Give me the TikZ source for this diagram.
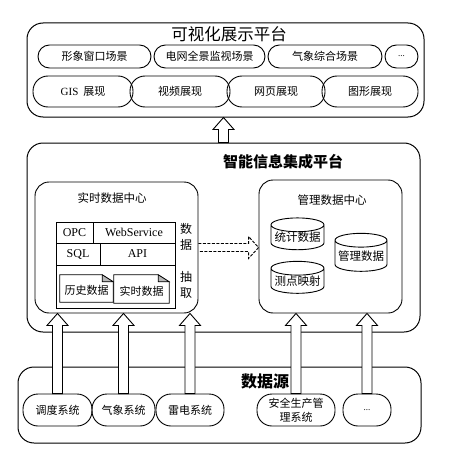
\documentclass[tikz,border=0pt]{standalone}
\usepackage{fontspec}
\setmainfont{Liberation Serif}
\newfontfamily\cjk{Noto Sans CJK SC}
\usetikzlibrary{shapes.geometric,calc}
\newcommand\hup[3][]{%
  \draw[blockarr,#1] let \p1=(#2), \p2=(#3) in
    (\x1-5pt,\y1) -- (\x1-5pt,\y2-12pt) -- (\x1-10.5pt,\y2-12pt) -- (\x1,\y2)
    -- (\x1+10.5pt,\y2-12pt) -- (\x1+5pt,\y2-12pt) -- (\x1+5pt,\y1) -- cycle;}
\newcommand\docshape[1]{%
  \draw[line width=0.8pt,fill=white] (#1.north west) -- ($(#1.north east)+(-11pt,0)$)
    -- ($(#1.north east)+(0,-7pt)$) -- (#1.south east) -- (#1.south west) -- cycle;
  \draw[line width=0.7pt,fill=gray!55] ($(#1.north east)+(-11pt,0)$) -- ($(#1.north east)+(-11pt,-7pt)$)
    -- ($(#1.north east)+(0,-7pt)$) -- cycle;}
\begin{document}
\begin{tikzpicture}[x=1pt,y=-1pt,
  wh/.style 2 args={minimum width=#1pt,minimum height=#2pt},
  outer/.style={draw,line width=1pt,rounded corners=16pt,inner sep=0pt},
  inner/.style={draw,line width=0.9pt,rounded corners=14pt,inner sep=0pt},
  pill/.style={draw,line width=0.9pt,rounded corners=11.5pt,inner sep=0pt,align=center,
    font=\cjk\fontsize{11}{13}\selectfont},
  pillb/.style={pill,rounded corners=15pt},
  lab/.style={inner sep=0pt,align=center,font=\cjk\fontsize{11.5}{14}\selectfont},
  ttl/.style={inner sep=0pt,font=\cjk\bfseries\fontsize{15}{18}\selectfont},
  cell/.style={draw,line width=0.9pt,inner sep=0pt,font=\fontsize{12}{14}\selectfont},
  cyl/.style={cylinder,shape border rotate=90,draw,line width=0.9pt,aspect=0.3,inner sep=0pt,
    fill=white,font=\cjk\fontsize{11.5}{14}\selectfont},
  doc/.style={inner sep=0pt,font=\cjk\fontsize{11}{13}\selectfont},
  blockarr/.style={draw,line width=0.9pt,fill=white},
]
\useasboundingbox[fill=white] (0,0) rectangle (474,460);

% ---- top platform
\node[outer,wh={397}{94}] (vis) at (225.5,70) {};
\node[inner sep=0pt,font=\cjk\fontsize{16.5}{18}\selectfont] (vist) at (229,34) {可视化展示平台};
\node[pill,wh={113}{23}] (s1) at (94.5,56.5) {形象窗口场景};
\node[pill,wh={111}{23}] (s2) at (209.5,56.5) {电网全景监视场景};
\node[pill,wh={114}{23}] (s3) at (325,56.5) {气象综合场景};
\node[pill,wh={33}{23},font=\fontsize{9}{10}\selectfont] (s4) at (401.5,56.5) {...};
\node[pillb,wh={100}{31}] (g1) at (83,91.5) {\textrm{GIS}\ \ 展现};
\node[pillb,wh={100}{31}] (g2) at (180,91.5) {视频展现};
\node[pillb,wh={98}{31}] (g3) at (276,91.5) {网页展现};
\node[pillb,wh={96}{31}] (g4) at (370,91.5) {图形展现};

% ---- middle platform
\node[outer,wh={393}{189}] (mid) at (223.5,237.5) {};
\node[ttl] (midt) at (283,162) {智能信息集成平台};

\node[inner,wh={163}{131}] (rt) at (116.5,247.5) {};
\node[lab] (rtt) at (112,198) {实时数据中心};
\node[cell,wh={37}{21}] (opc) at (74.5,232.5) {OPC};
\node[cell,wh={82}{21}] (ws) at (134,232.5) {WebService};
\node[cell,wh={44}{22}] (sql) at (78,254) {SQL};
\node[cell,wh={75}{22}] (api) at (137.5,254) {API};
\node[cell,wh={119}{43}] (store) at (115.5,286.5) {};
\node[doc,wh={53}{27}] (d1) at (86.5,288.5) {};
\node[doc,wh={55}{28}] (d2) at (141.5,289) {};
\docshape{d1}
\docshape{d2}
\node[doc] at ($(d1.center)+(0,2)$) {历史数据};
\node[doc] at ($(d2.center)+(0,2)$) {实时数据};
\node[lab,font=\cjk\fontsize{12}{16.5}\selectfont] (sj) at (186,237) {数\\据};
\node[lab,font=\cjk\fontsize{12}{16.5}\selectfont] (cq) at (186,285) {抽\\取};

\node[inner,wh={143}{133}] (mg) at (330.5,246.5) {};
\node[lab] (mgt) at (332,200) {管理数据中心};
\node[cyl,minimum width=53pt,minimum height=31pt] (c1) at (297.5,237.5) {统计数据};
\node[cyl,minimum width=53pt,minimum height=32pt] (c2) at (297.5,281) {测点映射};
\node[cyl,minimum width=52pt,minimum height=38pt] (c3) at (361,256) {管理数据};

% dashed extraction arrow
\draw[line width=0.9pt,dash pattern=on 3pt off 1.5pt] let \p1=(rt.east), \p2=(mg.west) in
  (\x1,\y1+4pt) -- (\x2-10pt,\y1+4pt) -- (\x2-10pt,\y1+11pt) -- (\x2,\y1)
  -- (\x2-10pt,\y1-11pt) -- (\x2-10pt,\y1-4pt) -- (\x1,\y1-4pt);

% ---- data sources
\node[outer,wh={403}{76}] (ds) at (219.5,405) {};
\node[ttl,font=\cjk\bfseries\fontsize{16}{18}\selectfont] (dst) at (265,381) {数据源};
\node[pillb,wh={69}{32}] (dd) at (57.5,410) {调度系统};
\node[pillb,wh={63}{32}] (qx) at (123.5,410) {气象系统};
\node[pillb,wh={68}{32}] (ld) at (190,410) {雷电系统};
\node[pillb,wh={78}{32},font=\cjk\fontsize{11}{14}\selectfont] (aq) at (296,410) {安全生产管\\理系统};
\node[pillb,wh={48}{32},font=\fontsize{9}{10}\selectfont] (more) at (367,410) {...};

% ---- block arrows
\hup{mid.north}{vis.south}
\hup{dd.north}{rt.south}
\hup{qx.north}{rt.south}
\hup{ld.north}{rt.south}
\hup{aq.north}{mg.south}
\hup{more.north}{mg.south}
\end{tikzpicture}
\end{document}
